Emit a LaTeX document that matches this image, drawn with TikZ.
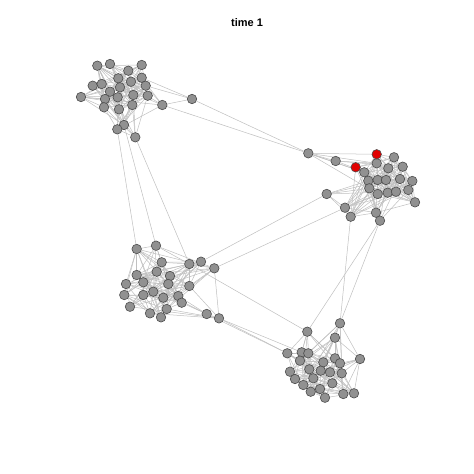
\documentclass[tikz,border=0pt]{standalone}
\usepackage{fontspec}
\setmainfont{Liberation Sans}
\usetikzlibrary{backgrounds}
\pgfdeclarelayer{paper}
\pgfdeclarelayer{edges}
\pgfsetlayers{paper,edges,main}
\definecolor{vgray}{RGB}{145,145,145}
\definecolor{vborder}{RGB}{75,75,75}
\definecolor{vred}{RGB}{225,0,0}
\definecolor{egray}{RGB}{192,192,192}
\tikzset{
  v/.style={circle,fill=vgray,draw=vborder,line width=0.6pt,minimum size=9.5pt,inner sep=0pt},
  vr/.style={v,fill=vred},
  edge/.style={draw=egray,line width=0.5pt}
}
\begin{document}
\begin{tikzpicture}[x=1pt,y=-1pt]
\begin{pgfonlayer}{paper}
\fill[white] (0,0) rectangle (474,474);
\end{pgfonlayer}
\useasboundingbox (0,0) rectangle (474,474);
\node[font=\bfseries\fontsize{11}{13}\selectfont] (title) at (247,23) {time 1};
% cluster A (top left)
\foreach \n/\x/\y in {A1/97.3/65.7,A2/110/64,A3/128.3/70.7,A4/141.7/65,A5/118.3/78.3,A6/131/81.7,A7/141.7/77.7,A8/145.7/85.7,A9/92.7/85.7,A10/101.7/84,A11/120/87.3,A12/110/91.7,A13/81/97,A14/105/99,A15/117.7/97.3,A16/133.3/95,A17/147.7/95.7,A18/132.3/105,A19/162.3/105,A20/192/99,A21/104/107.3,A22/119/109.3,A23/124/125,A24/117.3/129.3,A25/135.3/137.3}
  {\node[v] (\n) at (\x,\y) {};}
% cluster B (right)
\foreach \n/\x/\y in {B1/308.3/153.3,B2/335.7/161,B5/394/157.3,B6/376.7/163.3,B7/388.3/168.3,B8/402.7/166.7,B9/364.3/172.3,B10/368.3/180.7,B11/377.7/180,B12/386/180,B13/400/179,B14/412.3/181,B15/369.3/188.3,B16/377.7/194,B17/387.7/192.7,B18/396/191.7,B19/408.3/190,B20/415/202.3,B21/326.7/194,B22/345/207.7,B23/350.7/216.7,B24/376/212.7,B25/380/220.7}
  {\node[v] (\n) at (\x,\y) {};}
\node[vr] (B3) at (376.7,154.3) {};
\node[vr] (B4) at (355.7,167.3) {};
% cluster C (bottom left)
\foreach \n/\x/\y in {C1/136.7/249,C2/156/245.7,C3/161.7/262.3,C4/189.3/264,C5/201/261.7,C6/214.3/268.3,C7/136.7/275,C8/156.7/271.7,C9/170/276,C10/126/284,C11/143.3/282.3,C12/168.3/284,C13/189.3/286,C14/124.3/295,C15/153.3/291.7,C16/143.3/295,C17/163.3/297.7,C18/178.3/296,C19/181.7/302.7,C20/130/306.7,C21/166.7/309,C22/150/313.3,C23/161/317.3,C24/206.7/314,C25/219/318.3}
  {\node[v] (\n) at (\x,\y) {};}
% cluster D (bottom)
\foreach \n/\x/\y in {D1/340/323.3,D2/307.3/331.7,D3/335/337.7,D4/287.3/353.3,D5/301.7/352.3,D6/308.3/353.3,D7/300/360.7,D8/323.3/362.3,D9/335/358.3,D10/340/363.3,D11/360/359,D12/309.3/369.3,D13/320.7/370.7,D14/330/372.3,D15/341.7/373.3,D16/290/371.7,D17/295/379,D18/313.3/378.3,D19/332.3/383.3,D20/303.3/385,D21/320/389,D22/310.7/391.7,D23/343.3/394,D24/354/393.3,D25/325/397.7}
  {\node[v] (\n) at (\x,\y) {};}
\begin{pgfonlayer}{edges}
\pgfmathsetseed{7}
\foreach \c in {A,B,C,D}{
  \foreach \i in {1,...,24}{
    \pgfmathtruncatemacro\st{\i+1}
    \foreach \j in {\st,...,25}{
      \pgfpointdiff{\pgfpointanchor{\c\i}{center}}{\pgfpointanchor{\c\j}{center}}
      \pgfgetlastxy{\dx}{\dy}
      \pgfmathtruncatemacro\e{rnd<exp(-veclen(\dx,\dy)/48)?1:0}
      \ifnum\e=1 \draw[edge] (\c\i) -- (\c\j);\fi
    }}}
\foreach \a/\b in {A20/B1,A19/B1,A24/C1,A23/C2,A25/C4,C5/B21,C6/B22,C4/D2,C25/D4,C25/D5,C24/D4,B23/D1,B25/D1,B25/D2}
  {\draw[edge] (\a) -- (\b);}
\end{pgfonlayer}
\end{tikzpicture}
\end{document}
